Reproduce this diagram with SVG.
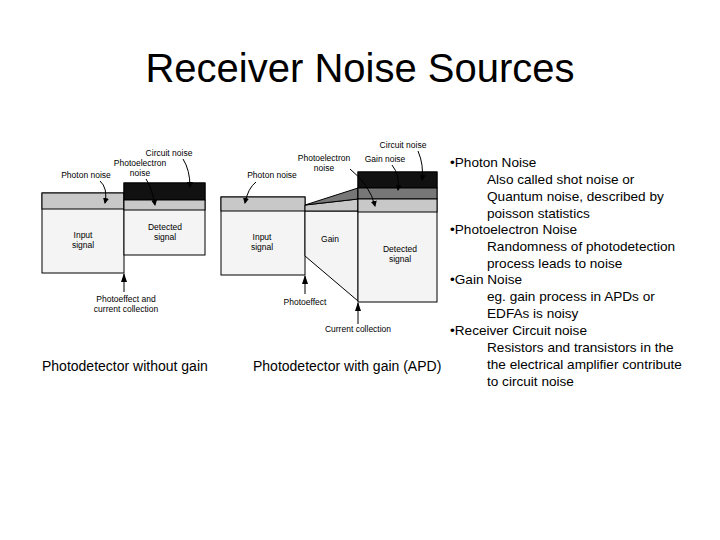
<svg xmlns="http://www.w3.org/2000/svg" width="720" height="540" viewBox="0 0 720 540">
<style>
text{font-family:"Liberation Sans",Arial,sans-serif;fill:#000}
.s{font-size:8.5px}
.b{font-size:13.6px}
.c{font-size:14px}
.box{stroke:#000;stroke-width:1;fill:#f4f4f4}
.g{fill:#c8c8c8;stroke:#000;stroke-width:1}
.l{stroke:#000;stroke-width:1;fill:none}
</style>
<defs><marker id="a" markerWidth="9" markerHeight="6" refX="8" refY="3" orient="auto" markerUnits="userSpaceOnUse"><path d="M0,0 L9,3 L0,6 Z" fill="#000"/></marker>
<marker id="p" markerWidth="6" markerHeight="6" refX="5" refY="3" orient="auto" markerUnits="userSpaceOnUse"><path d="M0,0 L6,3 L0,6 Z" fill="#000"/></marker></defs>
<rect width="720" height="540" fill="#fff"/>
<text x="360" y="82" font-size="40" text-anchor="middle">Receiver Noise Sources</text>
<g id="left">
<rect class="box" x="42" y="193" width="82" height="80"/>
<rect class="g" x="42" y="193" width="82" height="16"/>
<rect class="box" x="124" y="183" width="81" height="72"/>
<rect x="124" y="183" width="81" height="17" fill="#111" stroke="#000"/>
<rect class="g" x="124" y="200" width="81" height="10"/>
<text class="s" x="83" y="238" text-anchor="middle">Input</text><text class="s" x="83" y="248" text-anchor="middle">signal</text>
<text class="s" x="165" y="230" text-anchor="middle">Detected</text><text class="s" x="165" y="240" text-anchor="middle">signal</text>
<text class="s" x="86" y="178" text-anchor="middle">Photon noise</text>
<text class="s" x="140" y="166" text-anchor="middle">Photoelectron</text><text class="s" x="140" y="176" text-anchor="middle">noise</text>
<text class="s" x="169" y="156" text-anchor="middle">Circuit noise</text>
<text class="s" x="126" y="302" text-anchor="middle">Photoeffect and</text><text class="s" x="126" y="312" text-anchor="middle">current collection</text>
</g>
<g id="right">
<rect class="box" x="221" y="197" width="84" height="78"/>
<rect class="g" x="221" y="197" width="84" height="14"/>
<polygon points="305,211 358,211 358,301 305,256" fill="#f4f4f4" stroke="#000"/>
<polygon points="305,205 358,199 358,211 305,211" fill="#c8c8c8" stroke="#000"/>
<polygon points="305,205 358,188 358,199" fill="#777" stroke="#000"/>
<rect class="box" x="358" y="172" width="79" height="130"/>
<rect x="358" y="172" width="79" height="16" fill="#111" stroke="#000"/>
<rect x="358" y="188" width="79" height="11" fill="#777" stroke="#000"/>
<rect class="g" x="358" y="199" width="79" height="13"/>
<text class="s" x="262" y="240" text-anchor="middle">Input</text><text class="s" x="262" y="250" text-anchor="middle">signal</text>
<text class="s" x="330" y="242" text-anchor="middle">Gain</text>
<text class="s" x="400" y="252" text-anchor="middle">Detected</text><text class="s" x="400" y="262" text-anchor="middle">signal</text>
<text class="s" x="272" y="178" text-anchor="middle">Photon noise</text>
<text class="s" x="324" y="161" text-anchor="middle">Photoelectron</text><text class="s" x="324" y="171" text-anchor="middle">noise</text>
<text class="s" x="385" y="162" text-anchor="middle">Gain noise</text>
<text class="s" x="403" y="148" text-anchor="middle">Circuit noise</text>
<text class="s" x="305" y="305" text-anchor="middle">Photoeffect</text>
<text class="s" x="358" y="332" text-anchor="middle">Current collection</text>
</g>
<g id="connectors">
<line class="l" x1="124" y1="292" x2="124" y2="274" marker-end="url(#a)"/>
<line class="l" x1="305" y1="294" x2="305" y2="276" marker-end="url(#a)"/>
<line class="l" x1="358" y1="324" x2="358" y2="303" marker-end="url(#a)"/>
<path class="l" d="M100,181 Q108,188 105,203" marker-end="url(#p)"/>
<path class="l" d="M146,179 Q152,188 155,205" marker-end="url(#p)"/>
<path class="l" d="M183,159 Q190,170 190,187" marker-end="url(#p)"/>
<path class="l" d="M256,182 Q248,188 245,203" marker-end="url(#p)"/>
<path class="l" d="M350,169 Q370,185 375,206" marker-end="url(#p)"/>
<path class="l" d="M392,165 Q400,175 398,190" marker-end="url(#p)"/>
<path class="l" d="M418,151 Q424,165 422,180" marker-end="url(#p)"/>
</g>
<text class="c" x="42" y="371">Photodetector without gain</text>
<text class="c" x="253" y="371">Photodetector with gain (APD)</text>
<g id="list" class="b">
<text x="450" y="167">•Photon Noise</text>
<text x="487" y="184">Also called shot noise or</text>
<text x="487" y="201">Quantum noise, described by</text>
<text x="487" y="218">poisson statistics</text>
<text x="450" y="234">•Photoelectron Noise</text>
<text x="487" y="251">Randomness of photodetection</text>
<text x="487" y="268">process leads to noise</text>
<text x="450" y="284">•Gain Noise</text>
<text x="487" y="301">eg. gain process in APDs or</text>
<text x="487" y="318">EDFAs is noisy</text>
<text x="450" y="335">•Receiver Circuit noise</text>
<text x="487" y="352">Resistors and transistors in the</text>
<text x="487" y="369">the electrical amplifier contribute</text>
<text x="487" y="386">to circuit noise</text>
</g>
</svg>
